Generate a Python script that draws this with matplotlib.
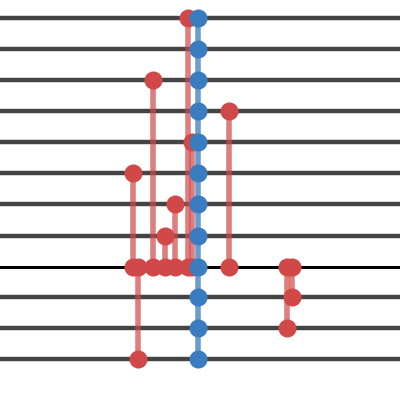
import matplotlib
matplotlib.use("Agg")
import matplotlib.pyplot as plt

row_y = [18, 49, 80, 111, 142, 173, 204, 236, 267, 297, 328, 359]
highlight_row = 8

red_x = [188, 153, 229, 133, 138, 175, 165, 287, 292, 192]
red_from = [0, 2, 3, 5, 8, 6, 7, 8, 8, 4]
red_to = [8, 8, 8, 8, 11, 8, 8, 10, 9, 8]

blue_x = 198
blue_rows = list(range(12))

red = "#d04848"
blue = "#3a7cc0"

fig = plt.figure(figsize=(4, 4), dpi=100)
ax = fig.add_axes([0, 0, 1, 1])
ax.set_xlim(0, 400)
ax.set_ylim(400, 0)
ax.axis("off")

for i, y in enumerate(row_y):
    if i == highlight_row:
        ax.plot([0, 400], [y, y], color="black", lw=2.2, zorder=1)
    else:
        ax.plot([0, 400], [y, y], color="#444444", lw=3.2, zorder=1)

for x, a, b in zip(red_x, red_from, red_to):
    ax.plot([x, x], [row_y[a], row_y[b]], color=red, lw=4, alpha=0.7, zorder=2)
    ax.plot([x, x], [row_y[a], row_y[b]], 'o', color=red, ms=13, zorder=3, mec="none")

ax.plot([blue_x] * len(blue_rows), [row_y[r] for r in blue_rows], color=blue, lw=4, alpha=0.75, zorder=4)
ax.plot([blue_x] * len(blue_rows), [row_y[r] for r in blue_rows], 'o', color=blue, ms=13, zorder=5, mec="none")

fig.savefig("out.png", dpi=100)
